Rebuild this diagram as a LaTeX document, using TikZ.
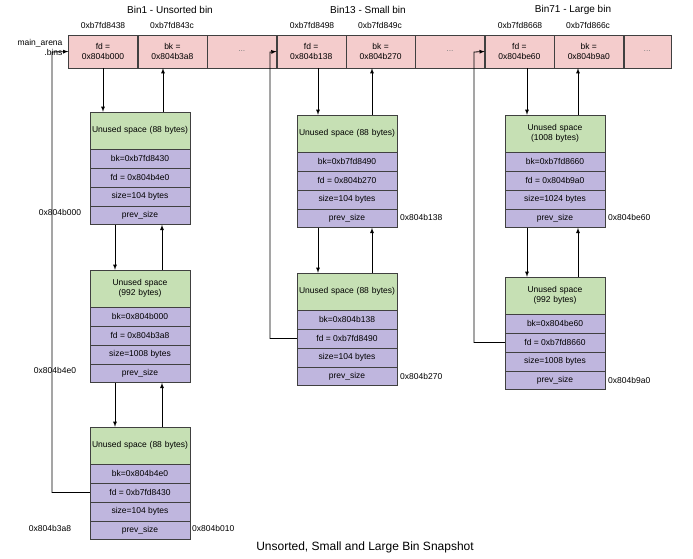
\documentclass[tikz,border=0pt]{standalone}
\usepackage{fontspec}
\setmainfont{Liberation Sans}
\definecolor{binpink}{HTML}{F4CCCC}
\definecolor{headgreen}{HTML}{C6E0B4}
\definecolor{rowpurple}{HTML}{BFB6DE}
\tikzset{
  cell/.style={draw=black!75, fill=binpink, minimum width=69pt, minimum height=33pt, inner sep=0pt, align=center, font=\fontsize{8.5}{10}\selectfont},
  head/.style={draw=black!75, fill=headgreen, minimum width=100pt, minimum height=37pt, inner sep=1pt, text width=96pt, align=center, font=\fontsize{8.5}{10}\selectfont},
  row/.style={draw=black!75, fill=rowpurple, minimum width=100pt, minimum height=18.5pt, inner sep=0pt, font=\fontsize{8.5}{10}\selectfont},
  lbl/.style={font=\fontsize{8.5}{10}\selectfont, inner sep=0pt},
  link/.style={thick, -latex}
}
\newcommand{\chunk}[7]{%
  \node[head] (#1h) at (#2+50,#3+18.5) {#4};
  \node[row, below=0pt of #1h] (#1bk) {#5};
  \node[row, below=0pt of #1bk] (#1fd) {#6};
  \node[row, below=0pt of #1fd] (#1sz) {#7};
  \node[row, below=0pt of #1sz] (#1ps) {prev\_size};
}
\usetikzlibrary{positioning}
\begin{document}
\begin{tikzpicture}[x=1pt, y=-1pt]
    \useasboundingbox (0,0) rectangle (693,558);
    % bins array
    \node[cell] (b1fd) at (103,51.5) {fd =\\0x804b000};
    \node[cell, right=0pt of b1fd] (b1bk) {bk =\\0x804b3a8};
    \node[cell, right=0pt of b1bk] (b1x) {\textcolor{black!50}{...}};
    \node[cell, right=0pt of b1x] (b13fd) {fd =\\0x804b138};
    \node[cell, right=0pt of b13fd] (b13bk) {bk =\\0x804b270};
    \node[cell, right=0pt of b13bk] (b13x) {\textcolor{black!50}{...}};
    \node[cell, right=0pt of b13x] (b71fd) {fd =\\0x804be60};
    \node[cell, right=0pt of b71fd] (b71bk) {bk =\\0x804b9a0};
    \node[cell, right=0pt of b71bk, minimum width=47pt] (b71x) {\textcolor{black!50}{...}};

    \node[lbl, align=right] (arena) at (40,47) {main\_arena\\.bins};
    \node[lbl, font=\fontsize{10}{12}\selectfont] (t1) at (170,10) {Bin1 - Unsorted bin};
    \node[lbl, font=\fontsize{10}{12}\selectfont] (t13) at (368,10) {Bin13 - Small bin};
    \node[lbl, font=\fontsize{10}{12}\selectfont] (t71) at (573,10) {Bin71 - Large bin};
    \node[lbl] (a1) at (103,25) {0xb7fd8438};
    \node[lbl] (a2) at (172,25) {0xb7fd843c};
    \node[lbl] (a3) at (312,25) {0xb7fd8498};
    \node[lbl] (a4) at (380,25) {0xb7fd849c};
    \node[lbl] (a5) at (520,25) {0xb7fd8668};
    \node[lbl] (a6) at (588,25) {0xb7fd866c};

    % chunks
    \chunk{ua}{90}{112}{Unused space (88 bytes)}{bk=0xb7fd8430}{fd = 0x804b4e0}{size=104 bytes}
    \chunk{ub}{90}{270}{Unused space (992 bytes)}{bk=0x804b000}{fd = 0x804b3a8}{size=1008 bytes}
    \chunk{uc}{90}{427}{Unused space (88 bytes)}{bk=0x804b4e0}{fd = 0xb7fd8430}{size=104 bytes}
    \chunk{sa}{297}{115}{Unused space (88 bytes)}{bk=0xb7fd8490}{fd = 0x804b270}{size=104 bytes}
    \chunk{sb}{297}{273}{Unused space (88 bytes)}{bk=0x804b138}{fd = 0xb7fd8490}{size=104 bytes}
    \chunk{la}{505}{115}{Unused space (1008 bytes)}{bk=0xb7fd8660}{fd = 0x804b9a0}{size=1024 bytes}
    \chunk{lb}{505}{277}{Unused space (992 bytes)}{bk=0x804be60}{fd = 0xb7fd8660}{size=1008 bytes}

    \node[lbl] (ad1) at (60,212) {0x804b000};
    \node[lbl] (ad2) at (55,370) {0x804b4e0};
    \node[lbl] (ad3) at (50,528) {0x804b3a8};
    \node[lbl, anchor=west] (ad4) at (192,528) {0x804b010};
    \node[lbl, anchor=west] (ad5) at (400,217) {0x804b138};
    \node[lbl, anchor=west] (ad6) at (400,376) {0x804b270};
    \node[lbl, anchor=west] (ad7) at (608,217) {0x804be60};
    \node[lbl, anchor=west] (ad8) at (608,380) {0x804b9a0};

    % links
    \draw[link] (b1fd.south -| 103,0) -- (uah.north -| 103,0);
    \draw[link] (uah.north -| 163,0) -- (b1bk.south -| 163,0);
    \draw[link] (uaps.south -| 115,0) -- (ubh.north -| 115,0);
    \draw[link] (ubh.north -| 162,0) -- (uaps.south -| 162,0);
    \draw[link] (ubps.south -| 115,0) -- (uch.north -| 115,0);
    \draw[link] (uch.north -| 162,0) -- (ubps.south -| 162,0);
    \draw[link] (b13fd.south -| 318,0) -- (sah.north -| 318,0);
    \draw[link] (sah.north -| 372,0) -- (b13bk.south -| 372,0);
    \draw[link] (saps.south -| 318,0) -- (sbh.north -| 318,0);
    \draw[link] (sbh.north -| 372,0) -- (saps.south -| 372,0);
    \draw[link] (b71fd.south -| 527,0) -- (lah.north -| 527,0);
    \draw[link] (lah.north -| 578,0) -- (b71bk.south -| 578,0);
    \draw[link] (laps.south -| 527,0) -- (lbh.north -| 527,0);
    \draw[link] (lbh.north -| 578,0) -- (laps.south -| 578,0);
    % back to the bins
    \draw[link] (ucfd.west) -| (52,52) -- (b1fd.west);
    \draw[link] (sbfd.west) -| (270,52) -- (b13fd.west);
    \draw[link] (lbfd.west) -| (474,52) -- (b71fd.west);

    \node[lbl, font=\fontsize{12}{14}\selectfont] (cap) at (365,547) {Unsorted, Small and Large Bin Snapshot};
\end{tikzpicture}
\end{document}
